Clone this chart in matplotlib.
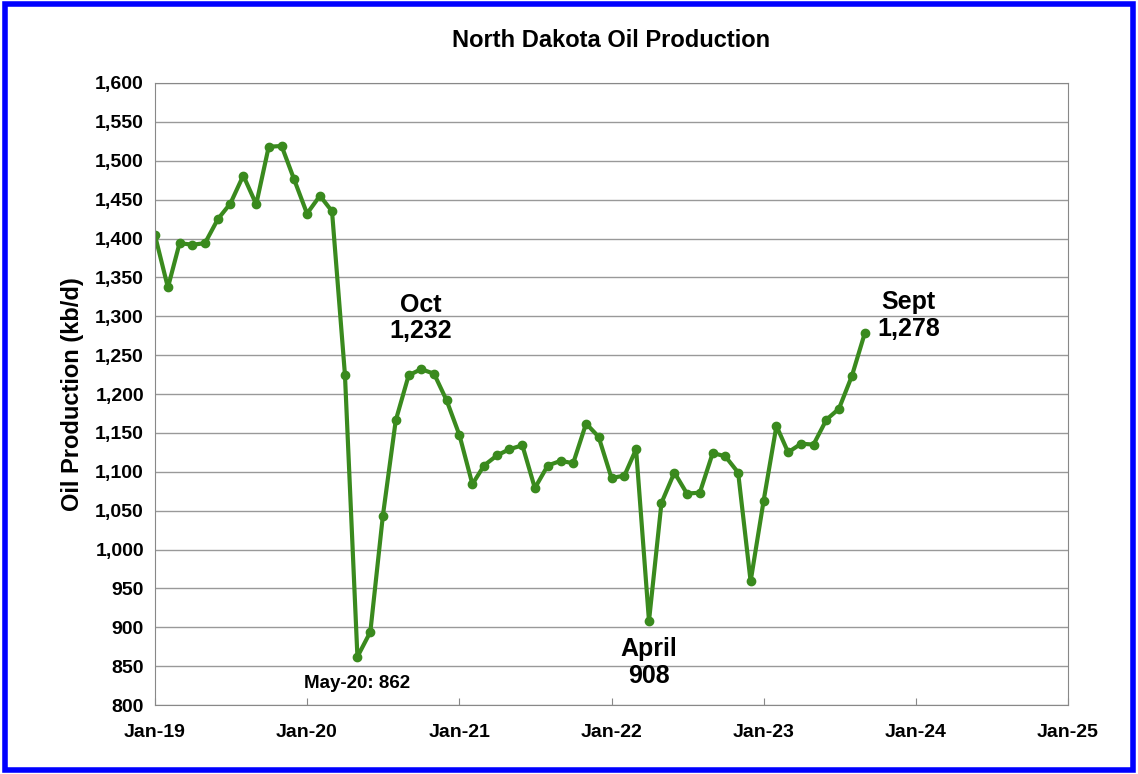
import matplotlib
matplotlib.use("Agg")
import matplotlib.pyplot as plt
import matplotlib.dates as mdates
import pandas as pd
from matplotlib.patches import Rectangle

production = [1404,1337,1394,1392,1394,1425,1445,1481,1444,1518,1519,1476,
              1432,1455,1435,1225,862,894,1043,1166,1224,1232,1226,1192,
              1147,1084,1108,1121,1129,1134,1079,1108,1114,1111,1162,1145,
              1092,1095,1129,908,1060,1099,1072,1073,1124,1120,1099,959,
              1062,1159,1125,1136,1135,1167,1181,1223,1278]
dates = pd.date_range("2019-01-01", periods=len(production), freq="MS")
tick_dates = pd.date_range("2019-01-01", "2025-01-01", freq="12MS")

plt.rcParams['font.family'] = ['Liberation Sans', 'DejaVu Sans']
fig = plt.figure(figsize=(11.38, 7.74), dpi=100)
ax = fig.add_axes([155/1138, 1-705/774, (1068-155)/1138, (705-83)/774])
fig.patches.append(Rectangle((0.004, 0.005), 0.992, 0.99, transform=fig.transFigure,
                             fill=False, edgecolor='#0000ff', linewidth=4))

ax.plot(dates, production, color='#3a8a1e', linewidth=3, marker='o', markersize=6)
ax.set_ylim(800, 1600)
ax.set_yticks(range(800, 1601, 50))
ax.yaxis.set_major_formatter(matplotlib.ticker.FuncFormatter(lambda v, p: f"{int(v):,}"))
ax.set_xlim(tick_dates[0], tick_dates[-1])
ax.set_xticks(tick_dates)
ax.xaxis.set_major_formatter(mdates.DateFormatter("%b-%y"))
for lab in ax.get_xticklabels() + ax.get_yticklabels():
    lab.set_fontweight('bold'); lab.set_fontsize(14)
ax.grid(axis='y', color='#999999', linewidth=1)
ax.set_axisbelow(True)
for s in ax.spines.values():
    s.set_color('#888888')
ax.tick_params(axis='y', length=0, pad=8)
ax.tick_params(axis='x', length=5, direction='in', color='#888888', pad=14)
ax.set_ylabel("Oil Production (kb/d)", fontsize=17, fontweight='bold', labelpad=8)
ax.set_title("North Dakota Oil Production", fontsize=17, fontweight='bold', pad=26)

ax.text(dates[21], 1265, "Oct\n1,232", ha='center', va='bottom', fontsize=18, fontweight='bold', linespacing=1.15)
ax.text(dates[39], 822, "April\n908", ha='center', va='bottom', fontsize=18, fontweight='bold', linespacing=1.15)
ax.text(pd.Timestamp("2023-12-15"), 1268, "Sept\n1,278", ha='center', va='bottom', fontsize=18, fontweight='bold', linespacing=1.15)
ax.text(dates[16], 828, "May-20: 862", ha='center', va='center', fontsize=13.5, fontweight='bold')

fig.savefig("out.png", dpi=100)
